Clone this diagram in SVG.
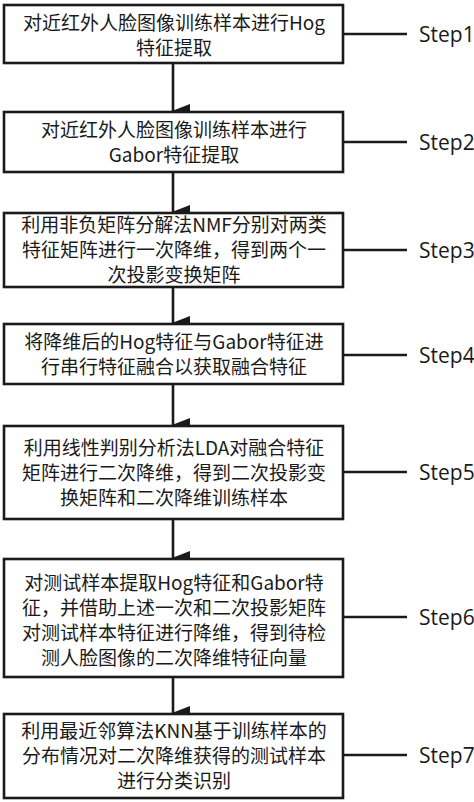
<svg xmlns="http://www.w3.org/2000/svg" width="474" height="802" viewBox="0 0 474 802">
<defs>
<style>
.box{fill:#fff;stroke:#1a1a1a;stroke-width:2.6}
.t{font-family:"Noto Sans CJK SC","Microsoft YaHei",sans-serif;font-size:19px;fill:#1a1a1a;text-anchor:middle}
.s{font-family:"Open Sans","Noto Sans",sans-serif;font-size:21px;fill:#1a1a1a}
.ln{stroke:#1a1a1a;stroke-width:2.6;fill:none}
</style>
<marker id="ah" markerWidth="14" markerHeight="18" refX="7" refY="17" orient="auto" markerUnits="userSpaceOnUse" viewBox="0 0 14 18">
<path d="M0,0 L14,0 L7,18 Z" fill="#1a1a1a"/>
</marker>
</defs>
<rect width="474" height="802" fill="#fff"/>
<g id="connectors">
<line class="ln" x1="173" y1="64" x2="173" y2="111" marker-end="url(#ah)"/>
<line class="ln" x1="173" y1="173" x2="173" y2="212" marker-end="url(#ah)"/>
<line class="ln" x1="173" y1="288" x2="173" y2="323" marker-end="url(#ah)"/>
<line class="ln" x1="173" y1="385" x2="173" y2="425" marker-end="url(#ah)"/>
<line class="ln" x1="173" y1="520" x2="173" y2="558" marker-end="url(#ah)"/>
<line class="ln" x1="173" y1="678" x2="173" y2="713" marker-end="url(#ah)"/>
<line class="ln" x1="344" y1="34" x2="407" y2="34"/>
<line class="ln" x1="344" y1="142" x2="407" y2="142"/>
<line class="ln" x1="344" y1="250" x2="407" y2="250"/>
<line class="ln" x1="344" y1="355" x2="407" y2="355"/>
<line class="ln" x1="344" y1="472" x2="407" y2="472"/>
<line class="ln" x1="344" y1="617" x2="407" y2="617"/>
<line class="ln" x1="344" y1="755" x2="407" y2="755"/>
</g>
<g id="step1">
<rect class="box" x="4" y="5" width="339" height="58"/>
<text class="t" x="174" y="30">对近红外人脸图像训练样本进行Hog</text>
<text class="t" x="174" y="55">特征提取</text>
<text class="s" x="419" y="42">Step1</text>
</g>
<g id="step2">
<rect class="box" x="4" y="112" width="339" height="60"/>
<text class="t" x="174" y="137">对近红外人脸图像训练样本进行</text>
<text class="t" x="174" y="162">Gabor特征提取</text>
<text class="s" x="419" y="150">Step2</text>
</g>
<g id="step3">
<rect class="box" x="4" y="213" width="339" height="74"/>
<text class="t" x="174" y="232">利用非负矩阵分解法NMF分别对两类</text>
<text class="t" x="174" y="257">特征矩阵进行一次降维，得到两个一</text>
<text class="t" x="174" y="282">次投影变换矩阵</text>
<text class="s" x="419" y="258">Step3</text>
</g>
<g id="step4">
<rect class="box" x="4" y="324" width="339" height="60"/>
<text class="t" x="174" y="349">将降维后的Hog特征与Gabor特征进</text>
<text class="t" x="174" y="374">行串行特征融合以获取融合特征</text>
<text class="s" x="419" y="363">Step4</text>
</g>
<g id="step5">
<rect class="box" x="4" y="426" width="339" height="93"/>
<text class="t" x="174" y="455">利用线性判别分析法LDA对融合特征</text>
<text class="t" x="174" y="480">矩阵进行二次降维，得到二次投影变</text>
<text class="t" x="174" y="505">换矩阵和二次降维训练样本</text>
<text class="s" x="419" y="480">Step5</text>
</g>
<g id="step6">
<rect class="box" x="4" y="559" width="339" height="118"/>
<text class="t" x="174" y="590">对测试样本提取Hog特征和Gabor特</text>
<text class="t" x="174" y="615">征，并借助上述一次和二次投影矩阵</text>
<text class="t" x="174" y="640">对测试样本特征进行降维，得到待检</text>
<text class="t" x="174" y="665">测人脸图像的二次降维特征向量</text>
<text class="s" x="419" y="625">Step6</text>
</g>
<g id="step7">
<rect class="box" x="4" y="714" width="339" height="84"/>
<text class="t" x="174" y="738">利用最近邻算法KNN基于训练样本的</text>
<text class="t" x="174" y="763">分布情况对二次降维获得的测试样本</text>
<text class="t" x="174" y="788">进行分类识别</text>
<text class="s" x="419" y="763">Step7</text>
</g>
</svg>
